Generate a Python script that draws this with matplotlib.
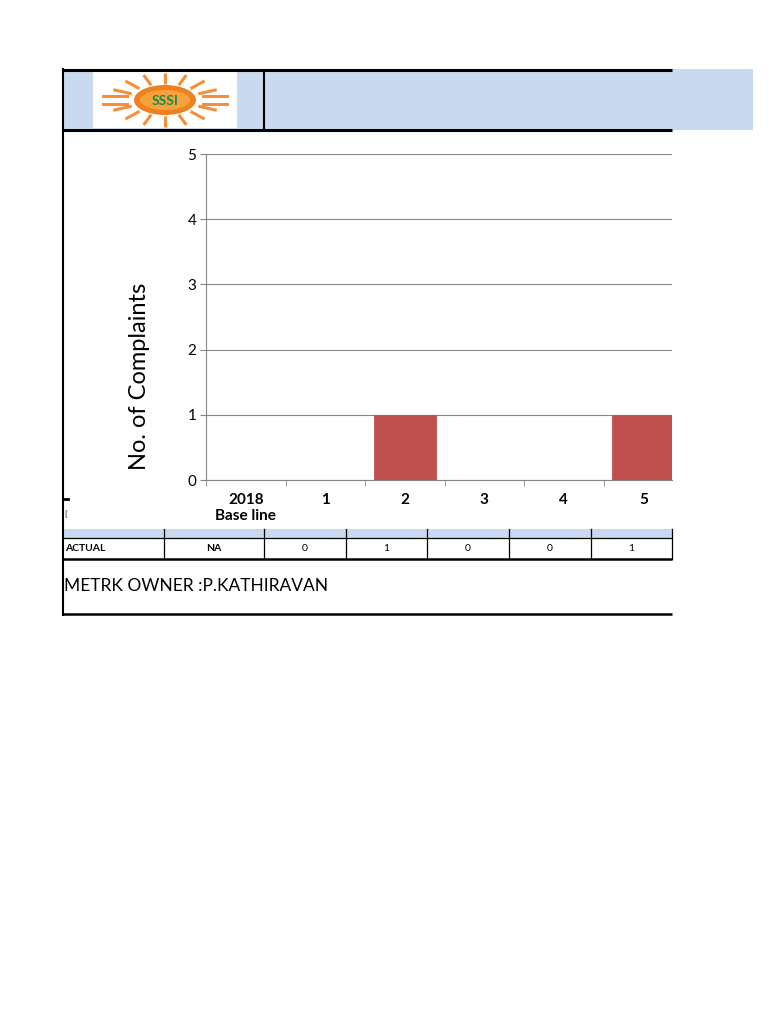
import numpy as np
import matplotlib
matplotlib.use("Agg")
import matplotlib.pyplot as plt
from matplotlib.patches import Rectangle, Ellipse

plt.rcParams['font.family'] = ['Lato', 'DejaVu Sans']

# Data
categories = ["2018\nBase line", "1", "2", "3", "4", "5"]
complaints = [0, 0, 1, 0, 0, 1]
table_label = "ACTUAL"
table_values = ["NA", "0", "1", "0", "0", "1"]
owner_text = "METRK OWNER :P.KATHIRAVAN"
y_label = "No. of Complaints"

W, H = 768, 1024
fig = plt.figure(figsize=(W / 100, H / 100), dpi=100)

# page overlay in pixel coords (y down)
bg = fig.add_axes([0, 0, 1, 1], zorder=0)
bg.set_xlim(0, W)
bg.set_ylim(H, 0)
bg.axis("off")

blue = "#C9DAF0"
# header band
bg.add_patch(Rectangle((63, 69), 753 - 63, 61, color=blue, lw=0))
bg.plot([63, 672], [70, 70], color="black", lw=2.2, solid_capstyle="butt")
bg.plot([63, 672], [130, 130], color="black", lw=2.2, solid_capstyle="butt")
bg.plot([264, 264], [70, 130], color="black", lw=1.5)
bg.plot([63, 63], [69, 615], color="black", lw=1.5)

# logo
bg.add_patch(Rectangle((93, 71), 144, 57, color="white", lw=0))
cx, cy = 165, 100
for ang in np.arange(0, 360, 22.5):
    if ang in (0, 180):
        continue
    a = np.deg2rad(ang)
    r0x, r0y = 36, 16
    r1x, r1y = 56, 27
    bg.plot([cx + r0x * np.cos(a), cx + r1x * np.cos(a)],
            [cy - r0y * np.sin(a), cy - r1y * np.sin(a)],
            color="#F5903A", lw=2.2, solid_capstyle="butt")
for dy in (-4, 4):
    bg.plot([cx - 62, cx - 38], [cy + dy, cy + dy], color="#F5903A", lw=2.2)
    bg.plot([cx + 38, cx + 62], [cy + dy, cy + dy], color="#F5903A", lw=2.2)
bg.add_patch(Ellipse((cx, cy), 62, 30, color="#F07F1F", lw=0))
bg.add_patch(Ellipse((cx, cy), 50, 20, color="#F6A23A", lw=0))
bg.text(cx, cy + 1, "SSSI", color="#1E8A4A", fontsize=10, fontweight="bold",
        ha="center", va="center")

# hidden row behind chart
bg.plot([63, 68], [499, 499], color="black", lw=2)
bg.text(64, 515, "[", fontsize=6, va="center")
bg.add_patch(Rectangle((63, 529), 672 - 63, 9, color=blue, lw=0))
col_edges = [164, 264, 346, 427, 509, 591, 672]
for x in col_edges:
    bg.plot([x, x], [529, 559], color="black", lw=0.9)
bg.plot([63, 672], [538, 538], color="black", lw=0.9, solid_capstyle="butt")
bg.plot([63, 672], [559, 559], color="black", lw=1.8, solid_capstyle="butt")

# white chart area
bg.add_patch(Rectangle((68, 133), 672 - 68, 529 - 133, color="white", lw=0))

# ACTUAL row
bg.text(65, 548.5, table_label, fontsize=7.5, fontweight="bold", va="center")
for i, val in enumerate(table_values):
    xm = (col_edges[i] + col_edges[i + 1]) / 2
    bg.text(xm, 548.5, val, fontsize=7.5, ha="center", va="center",
            fontweight="bold" if val == "NA" else "normal")

bg.text(64, 586, owner_text, fontsize=12.5, va="center")
bg.plot([63, 672], [614, 614], color="black", lw=1.8, solid_capstyle="butt")

# y axis title
bg.text(140, 376, y_label, fontsize=17, rotation=90, ha="center", va="center")

# chart
ax = fig.add_axes([206 / W, 1 - 480 / H, (672 - 206) / W, (480 - 154) / H], zorder=1)
ax.patch.set_alpha(0)
x = np.arange(len(categories))
ax.bar(x, complaints, width=0.78, color="#C0504D", edgecolor="#C0504D", lw=0.6, zorder=3)
ax.set_xlim(-0.5, 5.36)
ax.set_ylim(0, 5)
ax.set_yticks(range(6))
ax.set_xticks(x)
ax.set_xticklabels(categories, fontsize=11, fontweight="bold")
ax.set_xticks(np.arange(-0.5, 5.5, 1), minor=True)
ax.tick_params(axis="x", which="major", length=0, pad=9)
ax.tick_params(axis="x", which="minor", length=4, color="#868686")
ax.tick_params(axis="y", length=4, color="#868686", labelsize=11, pad=3)
ax.grid(axis="y", color="#868686", lw=0.8, zorder=0)
for s in ("top", "right"):
    ax.spines[s].set_visible(False)
for s in ("left", "bottom"):
    ax.spines[s].set_color("#868686")

fig.savefig("out.png", dpi=100)
